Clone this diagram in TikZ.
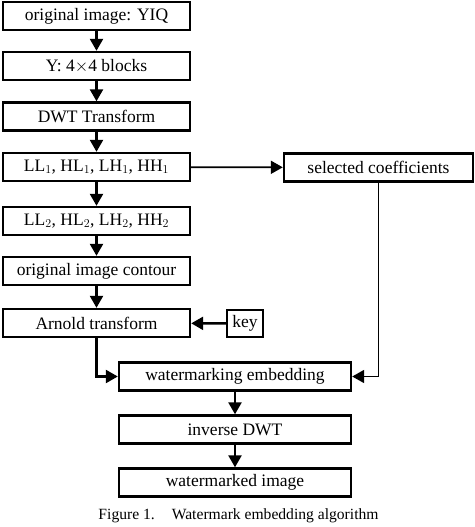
\documentclass[tikz,border=0pt]{standalone}
\usepackage{fontspec}
\setmainfont{Liberation Serif}
\usetikzlibrary{arrows.meta}
\begin{document}
\begin{tikzpicture}[x=1pt,y=-1pt,
  box/.style={draw,line width=2.4pt,minimum height=28pt,inner sep=0pt,font=\fontsize{17.5}{19}\selectfont},
  lbox/.style={box,minimum width=187pt},
  cbox/.style={box,minimum width=232pt},
  arr/.style={line width=2.4pt,-{Triangle[length=12pt,width=13pt]}},
  thin arr/.style={line width=1.8pt,-{Triangle[length=12pt,width=13pt]}}]
\useasboundingbox (0,0) rectangle (474,527);
\node[lbox] (b1) at (96.5,16) {original image: YIQ};
\node[lbox] (b2) at (96.5,66) {Y: 4$\times$4 blocks};
\node[lbox] (b3) at (96.5,116.5) {DWT Transform};
\node[lbox] (b4) at (96.5,167) {LL$_1$, HL$_1$, LH$_1$, HH$_1$};
\node[lbox] (b5) at (96.5,221) {LL$_2$, HL$_2$, LH$_2$, HH$_2$};
\node[lbox] (b6) at (96.5,271) {original image contour};
\node[lbox] (b7) at (96.5,323) {Arnold transform};
\node[box,minimum width=189pt] (sel) at (378.5,167.5) {selected coefficients};
\node[box,line width=1.8pt,minimum width=36pt,minimum height=27pt] (key) at (245,323.5) {key};
\node[cbox] (we) at (235,376.5) {watermarking embedding};
\node[cbox] (inv) at (235,429.5) {inverse DWT};
\node[cbox] (wm) at (235,482.5) {watermarked image};
\node[inner sep=0pt,font=\fontsize{15.6}{17}\selectfont] (cap) at (238.5,516) {Figure 1.\hspace{17pt}Watermark embedding algorithm};
\draw[arr] (b1) -- (b2);
\draw[arr] (b2) -- (b3);
\draw[arr] (b3) -- (b4);
\draw[arr] (b4) -- (b5);
\draw[arr] (b5) -- (b6);
\draw[arr] (b6) -- (b7);
\draw[thin arr] (b4) -- (sel);
\draw[arr] (key) -- (b7);
\draw[arr] (b7.south) |- (we.west);
\draw[thin arr] (sel.south) |- (we.east);
\draw[arr] (we) -- (inv);
\draw[arr] (inv) -- (wm);
\end{tikzpicture}
\end{document}
